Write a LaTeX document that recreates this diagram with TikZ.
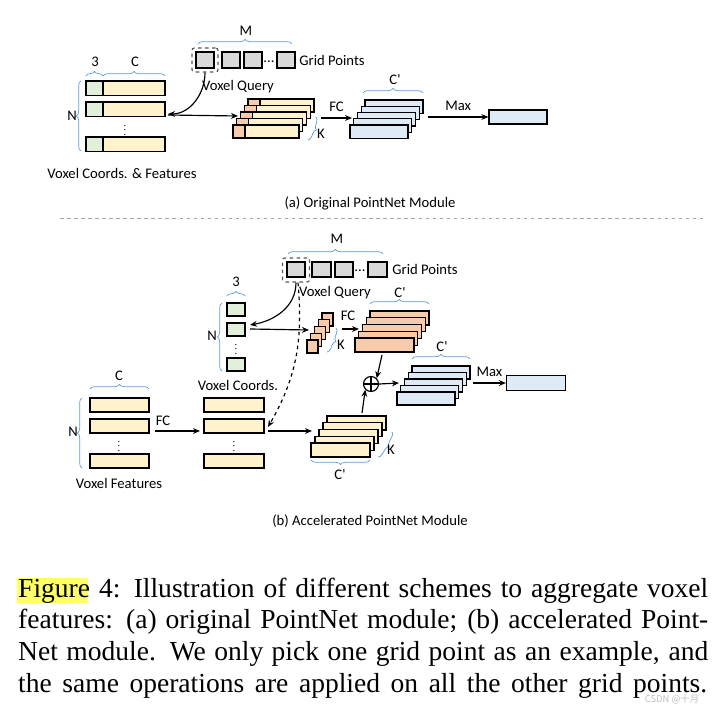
\documentclass[tikz,border=0pt]{standalone}
\usepackage{fontspec}
\setmainfont{Liberation Serif}
\newfontfamily\diag{Carlito}
\newfontfamily\cjk{Noto Sans CJK SC}
\usetikzlibrary{arrows.meta,decorations.pathreplacing,calc}
\definecolor{yel}{HTML}{FFF2CC}
\definecolor{grn}{HTML}{E2EFDA}
\definecolor{org}{HTML}{F8CBAD}
\definecolor{blu}{HTML}{DEEBF7}
\definecolor{gry}{HTML}{D9D9D9}
\definecolor{brc}{HTML}{5B9BD5}
\definecolor{hil}{HTML}{FFFF66}
\tikzset{
  box/.style={draw=black, line width=1pt},
  arr/.style={line width=1pt, -{Stealth[length=6pt,width=5pt]}},
  brace/.style={draw=brc, line width=0.6pt, decorate, decoration={brace, amplitude=4pt}},
  lbl/.style={font=\diag\fontsize{12.5pt}{14pt}\selectfont, inner sep=1pt},
  vd/.style={font=\fontsize{9pt}{9pt}\selectfont, inner sep=0pt},
  capline/.style={anchor=west, inner sep=0pt, font=\fontsize{23.5pt}{27pt}\selectfont}
}
\begin{document}
\begin{tikzpicture}[x=0.03cm, y=-0.03cm]
\useasboundingbox (0,0) rectangle (715,711);
%%%%%%%%%%%%%%%% (a) ORIGINAL POINTNET MODULE
%ROWS COORDS & FEATURES
\foreach \y in {81,102,137}{
  \draw[box, fill=yel] (86,\y) rectangle (165,\y+14.5);
  \draw[box, fill=grn] (86,\y) rectangle (103,\y+14.5);
}
\node[vd] (adots) at (125,127) {$\vdots$};
\coordinate (arow) at (168,114);
\draw[brace] (86,76) -- (103,76);
\draw[brace] (103,76) -- (165,76);
\node[lbl] (a3) at (95,62) {3};
\node[lbl] (aC) at (135,62) {C};
\draw[brace] (81,151) -- (81,81);
\node[lbl] (aN) at (72,116) {N};
\node[lbl] (afeat) at (122,173) {Voxel Coords. \& Features};
%GRID POINTS
\draw[box, fill=gry] (196,52) rectangle (214,68);
\draw[box, fill=gry] (222,52) rectangle (240,68);
\draw[box, fill=gry] (244,52) rectangle (262,68);
\draw[box, fill=gry] (277,52) rectangle (295,68);
\node[lbl] (agdots) at (269,62) {...};
\node[lbl, anchor=west] (agrid) at (298,60) {Grid Points};
\node[draw=gray!70!black, dashed, line width=1pt, rounded corners=2pt, minimum width=26*0.03cm, minimum height=24*0.03cm] (aq) at (205,60) {};
\draw[brace] (198,44) -- (292,44);
\node[lbl] (aM) at (246,31) {M};
\node[lbl] (aquery) at (238,87) {Voxel Query};
\draw[arr] (aq.south) to[out=-90, in=0] (arow);
%K STACK
\foreach \i in {0,...,4}{
  \draw[box, fill=yel] ({248-3.75*\i},{99+6.5*\i}) rectangle ++(66,13);
  \draw[box, fill=org] ({248-3.75*\i},{99+6.5*\i}) rectangle ++(12,13);
}
\coordinate (akin) at (238,116);
\draw[arr] ($(arow)+(0,1)$) -- (akin);
\draw[brace] (316,117) -- (308,140);
\node[lbl] (aK) at (321,134) {K};
%FC
\coordinate (afc1) at (321,118);
\coordinate (afc2) at (352,118);
\draw[arr] (afc1) -- (afc2) node[lbl, midway, above=4pt] (aFC) {FC};
\foreach \i in {0,...,4}{
  \draw[box, fill=blu] ({365-3.75*\i},{100+6.25*\i}) rectangle ++(58,13.5);
}
\draw[brace] (363,93) -- (423,93);
\node[lbl] (aCp) at (395,80) {C'};
%MAX
\node[box, fill=blu, minimum width=58*0.03cm, minimum height=14*0.03cm, inner sep=0pt] (aout) at (518,117) {};
\coordinate (amax) at (428,117);
\draw[arr] (amax) -- (aout.west) node[lbl, midway, above=4pt] (aMax) {Max};
\node[lbl] (acap) at (370,203) {(a) Original PointNet Module};
%SEPARATOR
\coordinate (sepl) at (60,218);
\coordinate (sepr) at (705,218);
\draw[gray!70, dashed, line width=0.8pt] (sepl) -- (sepr);
%%%%%%%%%%%%%%%% (b) ACCELERATED POINTNET MODULE
%GRID POINTS
\draw[box, fill=gry] (287,262) rectangle (305,277);
\draw[box, fill=gry] (312,262) rectangle (331,277);
\draw[box, fill=gry] (335,262) rectangle (353,277);
\draw[box, fill=gry] (368,262) rectangle (387,277);
\node[lbl] (bgdots) at (360,271) {...};
\node[lbl, anchor=west] (bgrid) at (391,269) {Grid Points};
\node[draw=gray!70!black, dashed, line width=1pt, rounded corners=2pt, minimum width=27*0.03cm, minimum height=24*0.03cm] (bq) at (296,270) {};
\draw[brace] (288,254) -- (383,254);
\node[lbl] (bM) at (337,239) {M};
\node[lbl] (bquery) at (335,293) {Voxel Query};
%COORDS
\foreach \y in {303,323,358}{
  \draw[box, fill=grn] (227,\y) rectangle (245,\y+13);
}
\node[vd] (bdots1) at (236,346) {$\vdots$};
\draw[brace] (227,296) -- (245,296);
\node[lbl] (b3) at (236,282) {3};
\draw[brace] (222,371) -- (222,303);
\node[lbl] (bN1) at (212,336) {N};
\node[lbl] (bcoords) at (238,385) {Voxel Coords.};
\coordinate (bc) at (250,325);
\draw[arr] (bq.south) to[out=-90, in=10] (bc);
%SMALL K STACK
\foreach \i in {0,...,4}{
  \draw[box, fill=org] ({322-3.75*\i},{313+6.75*\i}) rectangle ++(11,13);
}
\coordinate (bsk) at (309,330);
\draw[arr] ($(bc)+(0,4)$) -- (bsk);
\draw[brace] (336,328) -- (327,352);
\node[lbl] (bK1) at (341,345) {K};
\coordinate (bfc1) at (342,329);
\coordinate (bfc2) at (359,329);
\draw[arr] (bfc1) -- (bfc2);
\node[lbl] (bFC1) at (348,316) {FC};
%BIG ORANGE STACK
\foreach \i in {0,...,4}{
  \draw[box, fill=org] ({370-3.75*\i},{311+6.75*\i}) rectangle ++(59,14);
}
\draw[brace] (370,304) -- (429,304);
\node[lbl] (bCp1) at (400,293) {C'};
%PLUS
\node[draw, circle, line width=1pt, minimum size=15*0.03cm, inner sep=0pt] (plus) at (371,384) {};
\draw[line width=1pt] (plus.north) -- (plus.south) (plus.west) -- (plus.east);
\coordinate (borg) at (382,355);
\draw[arr] (borg) -- (plus.north east);
%BLUE STACK
\foreach \i in {0,...,4}{
  \draw[box, fill=blu] ({412-3.75*\i},{366+6.5*\i}) rectangle ++(58,13);
}
\coordinate (bblu) at (399,383);
\draw[arr] (plus.east) -- (bblu);
\draw[brace] (412,359) -- (470,359);
\node[lbl] (bCp2) at (442,347) {C'};
\node[box, fill=blu, minimum width=59*0.03cm, minimum height=15*0.03cm, inner sep=0pt] (bout) at (536,383) {};
\coordinate (bmax) at (473,383);
\draw[arr] (bmax) -- (bout.west) node[lbl, midway, above=4pt] (bMax) {Max};
%VOXEL FEATURES
\foreach \y in {398,419,454}{
  \draw[box, fill=yel] (90,\y) rectangle (149,\y+14);
  \draw[box, fill=yel] (204,\y) rectangle (264,\y+14);
}
\node[vd] (bdots2) at (119,443) {$\vdots$};
\node[vd] (bdots3) at (234,443) {$\vdots$};
\draw[brace] (90,389) -- (149,389);
\node[lbl] (bC) at (119,376) {C};
\draw[brace] (82,468) -- (82,398);
\node[lbl] (bN2) at (73,432) {N};
\node[lbl] (bfeat) at (119,483) {Voxel Features};
\coordinate (bf1) at (155,431);
\coordinate (bf2) at (200,431);
\draw[arr] (bf1) -- (bf2);
\node[lbl] (bFC2) at (163,421) {FC};
\coordinate (bmid) at (268,427);
\draw[arr, dashed] ($(bq.south)+(2,0)$) to[out=-85, in=60] (bmid);
%YELLOW K STACK
\coordinate (bm2) at (268,431);
\coordinate (byk) at (312,431);
\draw[arr] (bm2) -- (byk);
\foreach \i in {0,...,4}{
  \draw[box, fill=yel] ({327-4*\i},{416+6.75*\i}) rectangle ++(59,14);
}
\draw[brace] (392,432) -- (378,457);
\node[lbl] (bK2) at (391,450) {K};
\draw[brace] (370,460) -- (311,460);
\node[lbl] (bCp3) at (340,475) {C'};
\coordinate (byel) at (362,413);
\draw[arr] (byel) -- (plus.south west);
\node[lbl] (bcap) at (370,521) {(b) Accelerated PointNet Module};
%%%%%%%%%%%%%%%% CAPTION
\fill[hil] (17,578) rectangle (88,603);
\node[capline] (cap1) at (18,591) {\makebox[20.7cm][s]{Figure 4: Illustration of different schemes to aggregate voxel}};
\node[capline] (cap2) at (18,622) {\makebox[20.7cm][s]{features: (a) original PointNet module; (b) accelerated Point-}};
\node[capline] (cap3) at (18,654) {\makebox[20.7cm][s]{Net module. We only pick one grid point as an example, and}};
\node[capline] (cap4) at (18,686) {\makebox[20.67cm][s]{the same operations are applied on all the other grid points.}};
\node[text=gray!50, font=\cjk\fontsize{8pt}{9pt}\selectfont, inner sep=0pt] (wm) at (672,699) {CSDN @十月};
\end{tikzpicture}
\end{document}
